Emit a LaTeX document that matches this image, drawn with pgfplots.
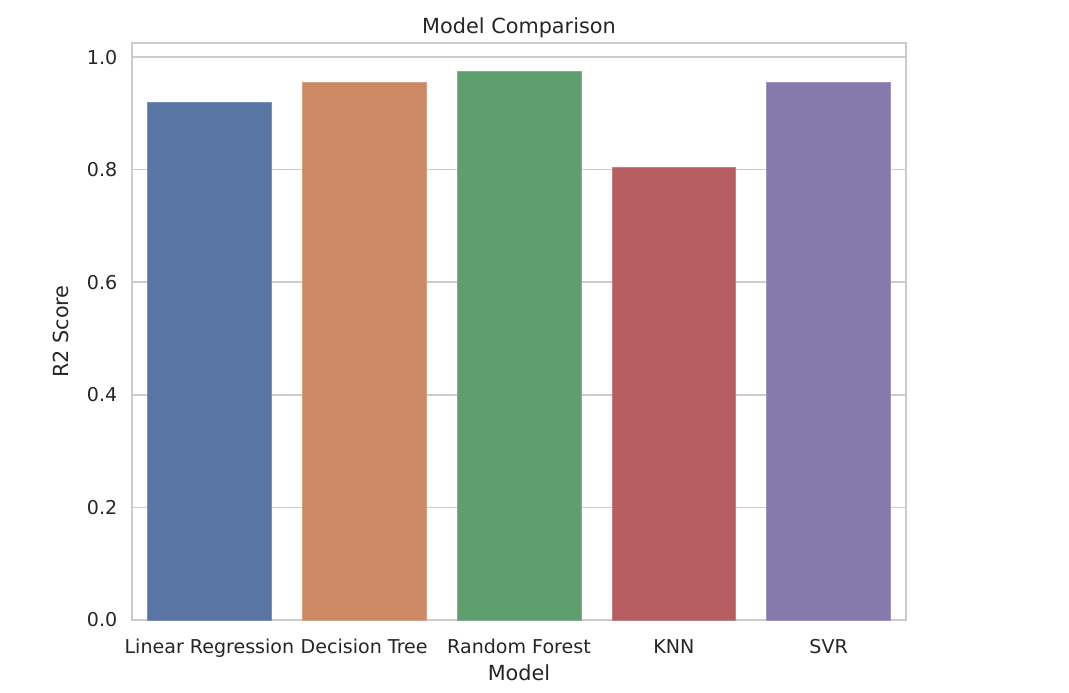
\documentclass[border=0pt]{standalone}
\usepackage{pgfplots}
\pgfplotsset{compat=1.18}
\usepackage{fontspec}
\setmainfont{DejaVu Sans}
\definecolor{cLR}{HTML}{5875A4}
\definecolor{cDT}{HTML}{CC8963}
\definecolor{cRF}{HTML}{5F9E6E}
\definecolor{cKNN}{HTML}{B55D60}
\definecolor{cSVR}{HTML}{857AAB}
\definecolor{spine}{HTML}{CCCCCC}
\definecolor{txt}{HTML}{262626}
\begin{document}
\begin{tikzpicture}
\useasboundingbox (-99pt,-54pt) rectangle (702.75pt,465pt);
\begin{axis}[
  at={(0,0)}, anchor=south west,
  scale only axis,
  width=580.5pt, height=432.75pt,
  /pgf/number format/assume math mode=true,
  xmin=-0.5, xmax=4.5,
  ymin=0, ymax=1.025,
  xtick={0,1,2,3,4},
  xticklabels={Linear Regression,Decision Tree,Random Forest,KNN,SVR},
  ytick={0,0.2,0.4,0.6,0.8,1.0},
  yticklabel style={/pgf/number format/fixed,/pgf/number format/fixed zerofill,/pgf/number format/precision=1},
  major tick length=0pt,
  ymajorgrids=true,
  grid style={spine, line width=1.2pt},
  axis line style={spine, line width=1.4pt},
  tick label style={font=\fontsize{14.3pt}{16pt}\selectfont, text=txt},
  xticklabel style={yshift=-11pt},
  yticklabel style={xshift=-7.5pt},
  label style={font=\fontsize{15.6pt}{18pt}\selectfont, text=txt},
  title style={font=\fontsize{15.6pt}{18pt}\selectfont, text=txt, yshift=-6pt},
  title={Model Comparison},
  xlabel={Model},
  ylabel={R2 Score},
  xlabel style={yshift=2pt},
  ylabel style={yshift=6.5pt},
  ybar, bar width=0.8, bar shift=0pt,
]
\addplot[fill=cLR, draw=cLR!80!white, line width=0.5pt] coordinates {(0,0.920)};
\addplot[fill=cDT, draw=cDT!80!white, line width=0.5pt] coordinates {(1,0.9555)};
\addplot[fill=cRF, draw=cRF!80!white, line width=0.5pt] coordinates {(2,0.975)};
\addplot[fill=cKNN, draw=cKNN!80!white, line width=0.5pt] coordinates {(3,0.804)};
\addplot[fill=cSVR, draw=cSVR!80!white, line width=0.5pt] coordinates {(4,0.9555)};
\end{axis}
\end{tikzpicture}
\end{document}
